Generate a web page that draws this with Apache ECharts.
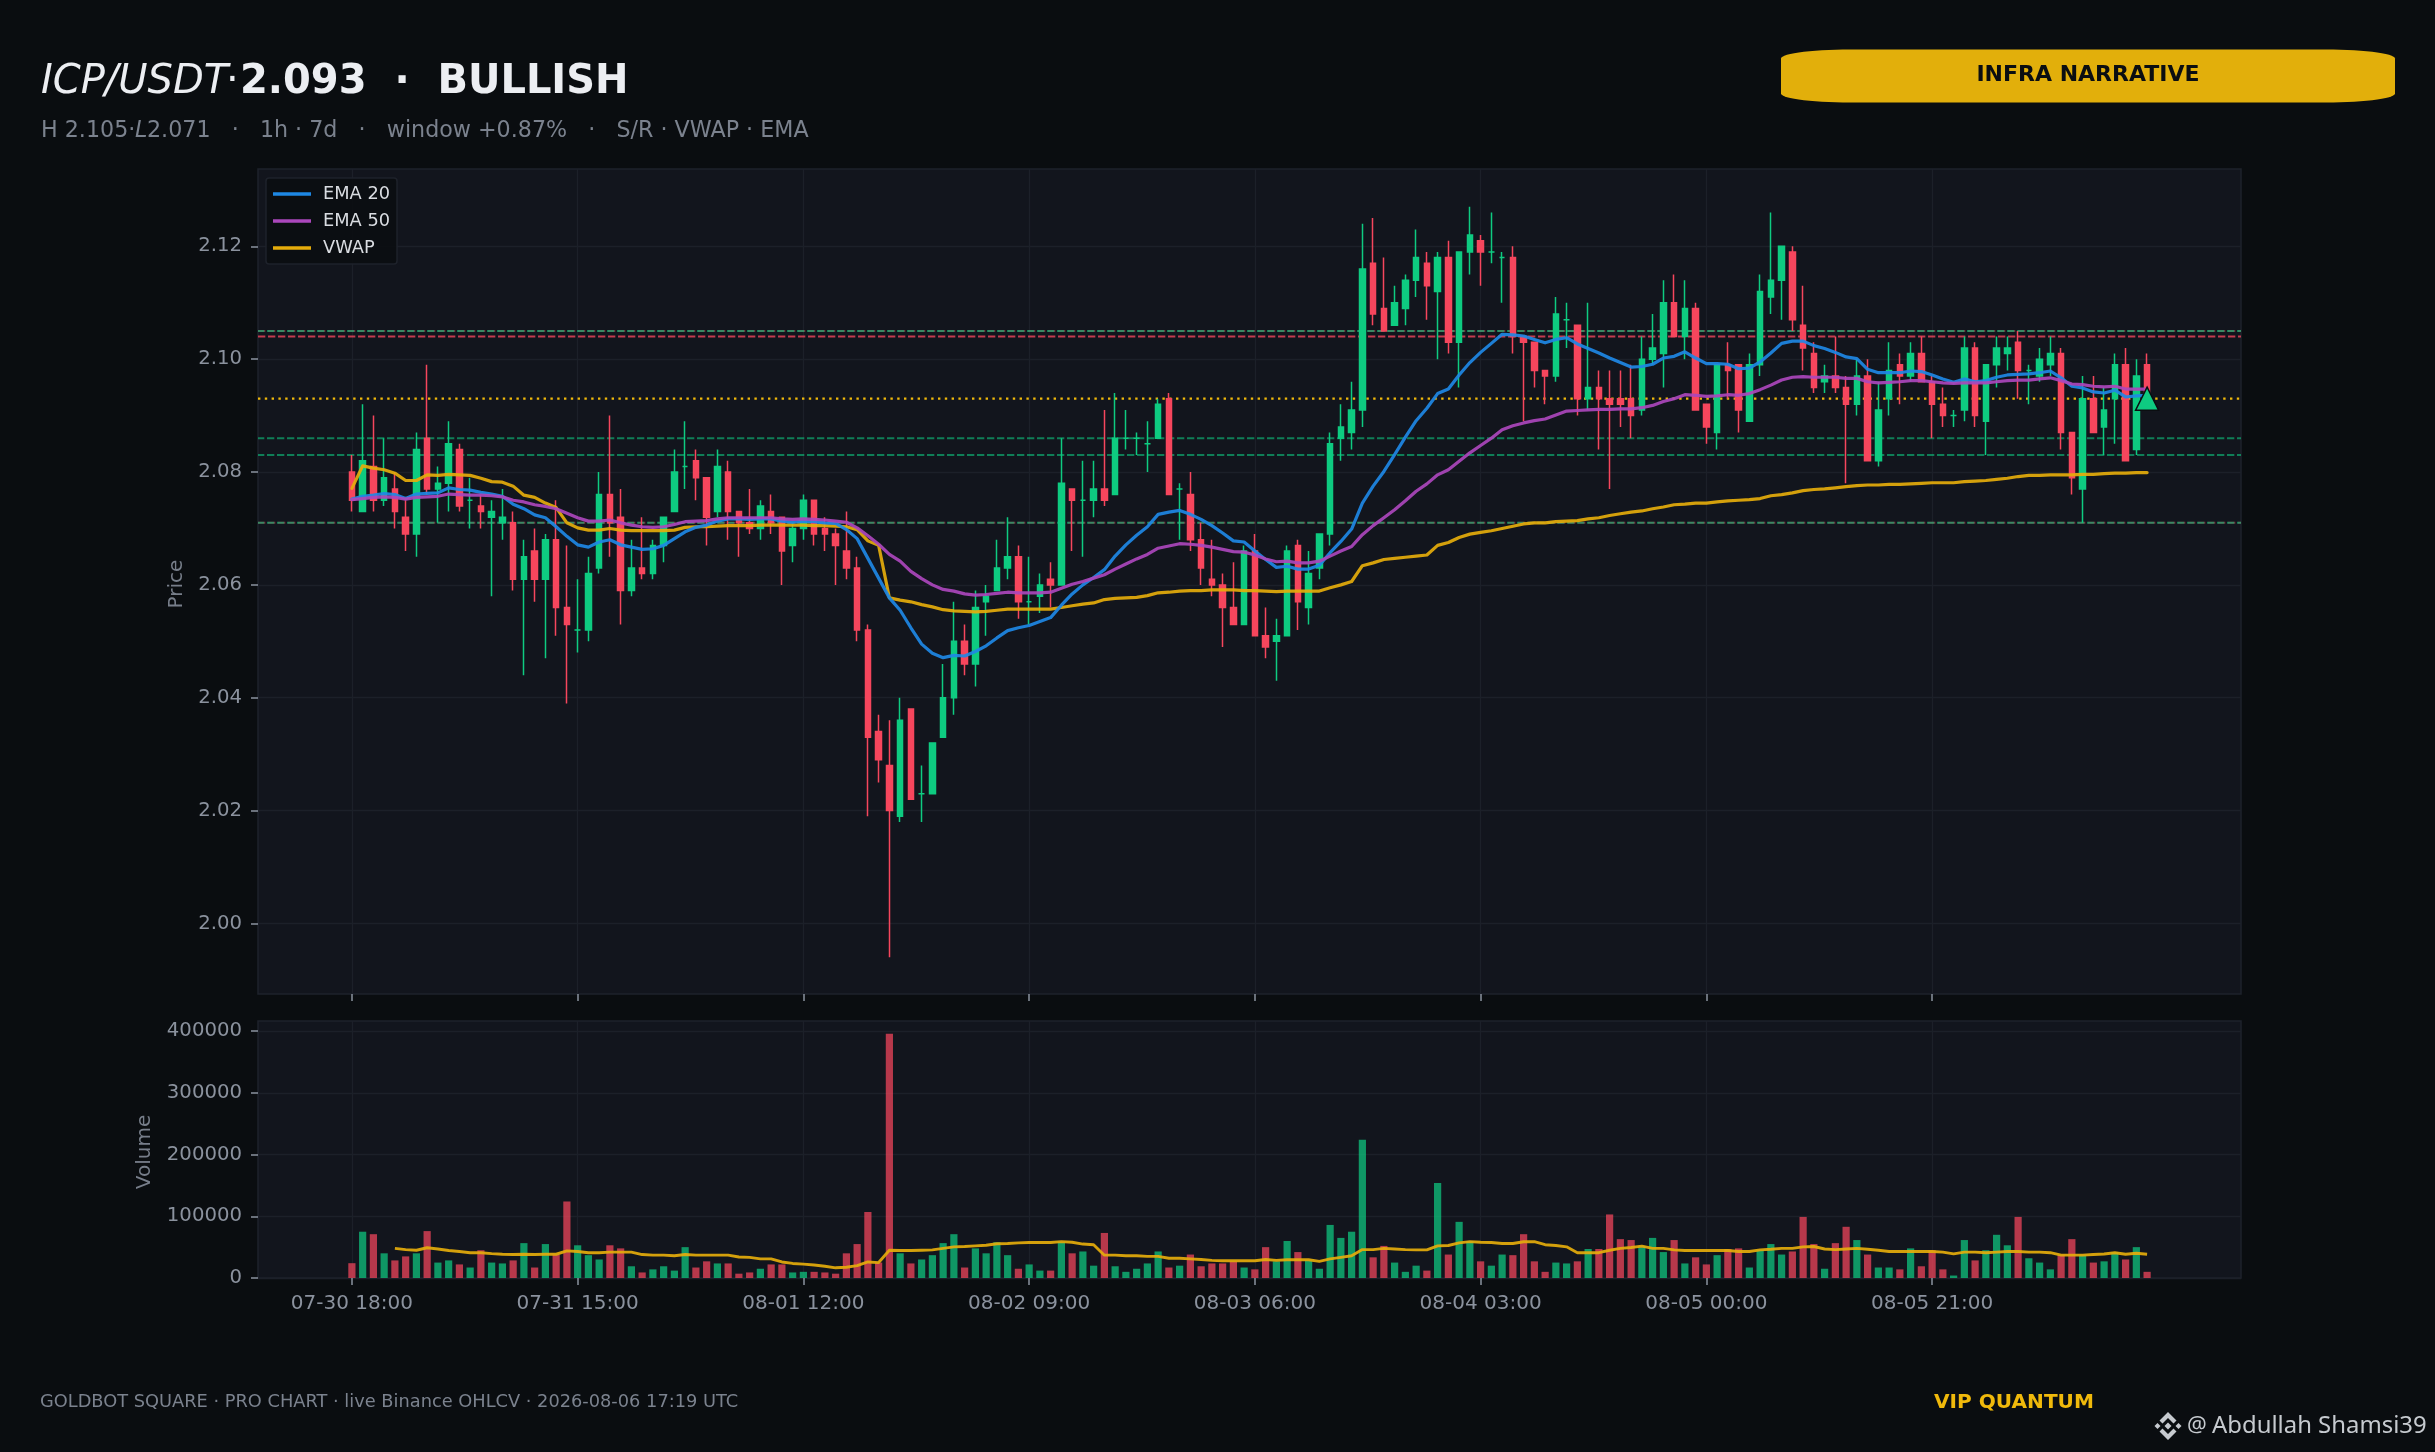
<!DOCTYPE html>
<html><head><meta charset="utf-8">
<style>html,body{margin:0;padding:0;background:#0a0d10}#c{width:2435px;height:1452px}</style>
<script src="https://cdn.jsdelivr.net/npm/echarts@6/dist/echarts.min.js"></script>
</head><body><div id="c"></div>
<script>
const opens=[2.080,2.073,2.081,2.075,2.077,2.072,2.069,2.086,2.077,2.078,
2.084,2.075,2.074,2.072,2.071,2.071,2.061,2.066,2.061,2.068,
2.056,2.052,2.052,2.063,2.076,2.072,2.059,2.063,2.062,2.067,
2.073,2.081,2.082,2.079,2.073,2.080,2.073,2.071,2.070,2.073,
2.072,2.067,2.070,2.075,2.070,2.069,2.066,2.063,2.052,2.034,
2.028,2.019,2.038,2.023,2.023,2.033,2.040,2.050,2.046,2.057,
2.059,2.063,2.065,2.057,2.058,2.061,2.060,2.077,2.075,2.075,
2.077,2.076,2.086,2.086,2.085,2.086,2.093,2.077,2.076,2.068,
2.061,2.060,2.056,2.053,2.066,2.051,2.050,2.051,2.067,2.056,
2.063,2.069,2.086,2.087,2.091,2.117,2.109,2.106,2.109,2.114,
2.117,2.112,2.118,2.103,2.119,2.121,2.119,2.118,2.118,2.104,
2.103,2.098,2.097,2.107,2.106,2.093,2.095,2.093,2.093,2.093,
2.091,2.100,2.101,2.110,2.104,2.109,2.092,2.087,2.099,2.099,
2.089,2.099,2.111,2.114,2.119,2.106,2.101,2.096,2.097,2.095,
2.092,2.097,2.082,2.093,2.099,2.097,2.101,2.096,2.092,2.090,
2.091,2.102,2.089,2.099,2.101,2.103,2.098,2.097,2.099,2.101,
2.087,2.077,2.093,2.088,2.093,2.099,2.084,2.099];
const closes=[2.075,2.082,2.075,2.079,2.073,2.069,2.084,2.077,2.078,2.085,
2.074,2.075,2.073,2.073,2.072,2.061,2.065,2.061,2.068,2.056,
2.053,2.052,2.062,2.076,2.071,2.059,2.063,2.062,2.067,2.072,
2.080,2.081,2.079,2.072,2.081,2.073,2.071,2.070,2.074,2.071,
2.066,2.070,2.075,2.069,2.069,2.067,2.063,2.052,2.033,2.029,
2.020,2.036,2.022,2.023,2.032,2.040,2.050,2.046,2.056,2.058,
2.063,2.065,2.057,2.057,2.060,2.060,2.078,2.075,2.075,2.077,
2.075,2.086,2.086,2.086,2.085,2.092,2.076,2.077,2.068,2.063,
2.060,2.056,2.053,2.066,2.051,2.049,2.051,2.066,2.057,2.062,
2.069,2.085,2.088,2.091,2.116,2.108,2.105,2.110,2.114,2.118,
2.113,2.118,2.103,2.119,2.122,2.119,2.119,2.118,2.104,2.103,
2.098,2.097,2.108,2.107,2.093,2.095,2.093,2.092,2.092,2.090,
2.100,2.102,2.110,2.104,2.109,2.091,2.088,2.099,2.098,2.091,
2.099,2.112,2.114,2.120,2.107,2.102,2.095,2.097,2.095,2.092,
2.097,2.082,2.091,2.098,2.097,2.101,2.096,2.092,2.090,2.090,
2.102,2.090,2.099,2.102,2.102,2.098,2.098,2.100,2.101,2.087,
2.079,2.093,2.087,2.091,2.099,2.082,2.097,2.093];
const highs=[2.083,2.092,2.090,2.086,2.080,2.075,2.087,2.099,2.081,2.089,
2.085,2.079,2.076,2.075,2.077,2.073,2.068,2.070,2.069,2.075,
2.067,2.061,2.065,2.080,2.090,2.077,2.068,2.072,2.068,2.072,
2.084,2.089,2.084,2.079,2.084,2.082,2.073,2.077,2.075,2.076,
2.072,2.071,2.076,2.075,2.072,2.070,2.073,2.065,2.053,2.037,
2.036,2.040,2.038,2.028,2.032,2.046,2.057,2.053,2.059,2.060,
2.068,2.072,2.067,2.065,2.062,2.064,2.086,2.077,2.082,2.082,
2.091,2.094,2.091,2.087,2.089,2.093,2.094,2.078,2.080,2.071,
2.068,2.062,2.064,2.067,2.069,2.056,2.054,2.067,2.068,2.066,
2.069,2.087,2.092,2.096,2.124,2.125,2.118,2.113,2.115,2.123,
2.119,2.119,2.121,2.119,2.127,2.122,2.126,2.119,2.120,2.104,
2.103,2.098,2.111,2.110,2.106,2.110,2.098,2.098,2.098,2.099,
2.104,2.108,2.114,2.115,2.114,2.110,2.092,2.099,2.103,2.099,
2.101,2.115,2.126,2.120,2.120,2.113,2.103,2.099,2.104,2.097,
2.100,2.100,2.096,2.103,2.101,2.103,2.104,2.097,2.095,2.091,
2.104,2.103,2.099,2.104,2.104,2.105,2.099,2.102,2.104,2.102,
2.087,2.097,2.097,2.095,2.101,2.102,2.100,2.101];
const lows=[2.073,2.073,2.073,2.074,2.070,2.066,2.065,2.076,2.071,2.073,
2.073,2.070,2.070,2.058,2.068,2.059,2.044,2.057,2.047,2.051,
2.039,2.048,2.050,2.062,2.065,2.053,2.058,2.061,2.061,2.064,
2.073,2.077,2.075,2.067,2.072,2.068,2.065,2.069,2.068,2.069,
2.060,2.064,2.068,2.067,2.066,2.060,2.061,2.050,2.019,2.025,
1.994,2.018,2.022,2.018,2.023,2.033,2.037,2.044,2.042,2.051,
2.059,2.061,2.054,2.053,2.055,2.056,2.060,2.066,2.065,2.072,
2.074,2.076,2.084,2.083,2.080,2.086,2.076,2.068,2.066,2.060,
2.058,2.049,2.053,2.053,2.051,2.047,2.043,2.051,2.052,2.053,
2.061,2.067,2.082,2.084,2.088,2.106,2.105,2.106,2.106,2.111,
2.107,2.100,2.101,2.095,2.115,2.113,2.117,2.110,2.101,2.089,
2.095,2.092,2.096,2.102,2.090,2.091,2.084,2.077,2.088,2.086,
2.090,2.099,2.095,2.104,2.100,2.091,2.085,2.084,2.093,2.087,
2.089,2.097,2.108,2.107,2.105,2.098,2.094,2.094,2.094,2.078,
2.090,2.082,2.081,2.090,2.092,2.096,2.096,2.086,2.088,2.088,
2.089,2.088,2.083,2.095,2.098,2.093,2.092,2.096,2.097,2.084,
2.076,2.071,2.087,2.083,2.085,2.082,2.083,2.093];
const volumes=[24000,75000,71000,40000,28500,35000,40000,76000,25000,28500,
22000,17000,45000,25000,23600,28500,56500,17000,55000,38000,
124000,53000,37000,30000,53000,48000,19000,9000,14000,19000,
12000,50000,17000,27000,23600,23600,7000,9000,15000,22000,
22000,9000,10000,10000,9000,7000,40000,55000,107000,25000,
396000,40000,23600,30000,37000,56500,71000,17000,48000,40000,
58000,37000,15000,22000,12000,12000,58000,40000,43000,20000,
73000,19000,10000,15000,23600,43000,17000,20000,38000,19000,
23600,23600,27000,17000,14000,50000,27000,60000,42000,28500,
15000,86000,65000,75000,224000,33500,52000,25000,10000,20000,
12000,154000,38000,91000,60000,27000,20000,38000,37000,71000,
27000,10000,25000,23600,27000,47000,47000,103000,63000,61500,
52000,65000,42000,61500,23600,33500,22000,37000,47000,48000,
17000,45000,55000,38000,43000,99000,55000,15000,56500,83000,
61500,38000,17000,17000,14000,48000,19000,45000,14000,4000,
61500,28500,45000,70000,53000,99000,32000,25000,14000,37000,
63000,37000,25000,27000,42000,30000,50000,10000];
const ema20=[2.0752,2.0757,2.0759,2.0762,2.0760,2.0753,2.0761,2.0762,2.0763,2.0772,
2.0769,2.0768,2.0764,2.0761,2.0757,2.0743,2.0735,2.0724,2.0719,2.0703,
2.0686,2.0671,2.0667,2.0676,2.0680,2.0671,2.0667,2.0663,2.0664,2.0670,
2.0682,2.0694,2.0702,2.0706,2.0713,2.0717,2.0717,2.0716,2.0717,2.0717,
2.0713,2.0711,2.0713,2.0712,2.0710,2.0709,2.0698,2.0682,2.0647,2.0612,
2.0577,2.0555,2.0524,2.0495,2.0479,2.0471,2.0475,2.0474,2.0482,2.0492,
2.0506,2.0519,2.0524,2.0528,2.0535,2.0542,2.0564,2.0584,2.0600,2.0613,
2.0627,2.0651,2.0671,2.0688,2.0703,2.0725,2.0729,2.0732,2.0725,2.0716,
2.0705,2.0692,2.0678,2.0676,2.0660,2.0645,2.0631,2.0633,2.0628,2.0628,
2.0635,2.0657,2.0677,2.0699,2.0745,2.0775,2.0801,2.0831,2.0862,2.0891,
2.0913,2.0939,2.0947,2.0972,2.0994,2.1012,2.1028,2.1044,2.1043,2.1041,
2.1035,2.1029,2.1035,2.1038,2.1027,2.1019,2.1011,2.1002,2.0994,2.0986,
2.0987,2.0991,2.1002,2.1005,2.1013,2.1002,2.0992,2.0992,2.0991,2.0983,
2.0984,2.0995,2.1011,2.1028,2.1032,2.1032,2.1024,2.1019,2.1012,2.1004,
2.1001,2.0982,2.0976,2.0976,2.0976,2.0979,2.0978,2.0972,2.0965,2.0959,
2.0965,2.0960,2.0962,2.0968,2.0972,2.0973,2.0974,2.0976,2.0979,2.0967,
2.0952,2.0949,2.0942,2.0940,2.0945,2.0933,2.0935,2.0936];
const ema50=[2.0751,2.0753,2.0755,2.0756,2.0755,2.0752,2.0755,2.0756,2.0757,2.0761,
2.0760,2.0759,2.0759,2.0758,2.0756,2.0750,2.0747,2.0742,2.0739,2.0735,
2.0727,2.0719,2.0713,2.0713,2.0715,2.0710,2.0706,2.0703,2.0702,2.0703,
2.0707,2.0712,2.0713,2.0714,2.0717,2.0719,2.0719,2.0719,2.0719,2.0719,
2.0717,2.0716,2.0717,2.0716,2.0715,2.0713,2.0711,2.0701,2.0687,2.0672,
2.0654,2.0642,2.0624,2.0611,2.0600,2.0592,2.0589,2.0584,2.0582,2.0583,
2.0585,2.0587,2.0586,2.0586,2.0586,2.0587,2.0594,2.0601,2.0606,2.0612,
2.0618,2.0628,2.0637,2.0646,2.0654,2.0665,2.0669,2.0673,2.0672,2.0670,
2.0667,2.0663,2.0659,2.0658,2.0653,2.0646,2.0641,2.0642,2.0639,2.0639,
2.0642,2.0651,2.0660,2.0668,2.0689,2.0705,2.0719,2.0733,2.0749,2.0766,
2.0779,2.0795,2.0804,2.0819,2.0834,2.0847,2.0860,2.0875,2.0882,2.0887,
2.0891,2.0894,2.0901,2.0908,2.0909,2.0910,2.0911,2.0911,2.0912,2.0912,
2.0914,2.0918,2.0925,2.0930,2.0937,2.0936,2.0934,2.0935,2.0937,2.0936,
2.0939,2.0946,2.0954,2.0963,2.0968,2.0969,2.0968,2.0968,2.0968,2.0966,
2.0966,2.0960,2.0958,2.0959,2.0960,2.0962,2.0962,2.0960,2.0958,2.0957,
2.0958,2.0958,2.0958,2.0960,2.0962,2.0963,2.0963,2.0965,2.0967,2.0962,
2.0956,2.0955,2.0952,2.0951,2.0952,2.0947,2.0947,2.0947];
const vwap=[2.0771,2.0811,2.0807,2.0804,2.0798,2.0785,2.0785,2.0795,2.0794,2.0796,
2.0795,2.0794,2.0789,2.0783,2.0782,2.0775,2.0759,2.0755,2.0745,2.0737,
2.0710,2.0701,2.0697,2.0697,2.0700,2.0697,2.0696,2.0696,2.0696,2.0696,
2.0697,2.0702,2.0703,2.0703,2.0704,2.0705,2.0705,2.0705,2.0706,2.0706,
2.0706,2.0706,2.0706,2.0705,2.0705,2.0704,2.0703,2.0698,2.0678,2.0670,
2.0577,2.0573,2.0570,2.0565,2.0561,2.0556,2.0554,2.0553,2.0552,2.0553,
2.0555,2.0557,2.0557,2.0557,2.0557,2.0557,2.0560,2.0563,2.0566,2.0568,
2.0574,2.0576,2.0577,2.0578,2.0581,2.0586,2.0587,2.0589,2.0590,2.0590,
2.0591,2.0591,2.0591,2.0590,2.0590,2.0589,2.0588,2.0589,2.0589,2.0589,
2.0589,2.0595,2.0600,2.0606,2.0634,2.0639,2.0645,2.0647,2.0649,2.0651,
2.0653,2.0670,2.0675,2.0684,2.0690,2.0693,2.0696,2.0700,2.0704,2.0708,
2.0710,2.0710,2.0712,2.0713,2.0714,2.0717,2.0719,2.0723,2.0726,2.0729,
2.0731,2.0735,2.0738,2.0742,2.0743,2.0745,2.0745,2.0747,2.0749,2.0750,
2.0751,2.0753,2.0758,2.0760,2.0763,2.0767,2.0769,2.0770,2.0772,2.0774,
2.0776,2.0777,2.0777,2.0778,2.0778,2.0779,2.0780,2.0781,2.0781,2.0781,
2.0783,2.0784,2.0785,2.0787,2.0789,2.0792,2.0794,2.0794,2.0795,2.0795,
2.0795,2.0796,2.0796,2.0797,2.0798,2.0798,2.0799,2.0799];
const volMA=[null,null,null,null,48000,46000,45000,49000,47000,44500,
43000,41000,41000,39500,38500,38000,38500,38000,38500,38500,
44000,43000,41000,41000,42000,42000,42000,38000,37000,37000,
36000,38000,37000,37000,37000,37000,34000,33500,31000,31000,
26000,23600,22500,21000,19000,16500,17500,20000,26000,25000,
45000,44500,44500,45000,45500,48000,50500,51000,52000,53000,
55500,56000,57000,57600,57600,57600,59000,58000,55000,54000,
37000,37000,36000,36000,35000,35000,32000,32000,31000,30000,
28500,28000,28000,28000,28000,30000,28500,29600,29600,29600,
27000,31000,33500,36000,46000,46000,48000,47000,46000,45500,
45500,52000,52700,57000,59000,58000,57600,56000,56000,58700,
59000,54000,52700,50500,41000,41000,41000,45000,48000,49400,
51600,48000,48000,45500,44500,44500,44500,44500,44500,43000,
43000,45500,46700,48000,48000,50500,51000,47000,46000,47000,
48000,46700,45000,43000,43000,43000,43000,43000,42000,39000,
42000,42000,41000,42000,43000,43000,42000,42000,41000,37000,
37000,37000,38000,39000,41000,38500,40000,38500];
const xTickIndex=[0,21,42,63,84,105,126,147];
const xTickLabels=['07-30 18:00','07-31 15:00','08-01 12:00','08-02 09:00','08-03 06:00','08-04 03:00','08-05 00:00','08-05 21:00'];
const priceTicks=[2.00,2.02,2.04,2.06,2.08,2.10,2.12];
const volumeTicks=[0,100000,200000,300000,400000];
const resistLevels=[2.105,2.071];
const resistStrong=[2.104];
const supportLevels=[2.105,2.086,2.083,2.071];
const pivotLevel=2.093;
const lastPoint=[167,2.093];
const titleLeft='ICP/USDT';
const titleRight='2.093  ·  BULLISH';
const subtitleParts=['H 2.105·','L','2.071   ·   1h · 7d   ·   window +0.87%   ·   S/R · VWAP · EMA'];
const footer='GOLDBOT SQUARE · PRO CHART · live Binance OHLCV · 2026-08-06 17:19 UTC';

const UP='#0ECB81',DOWN='#F6465D',GOLD='#F0B90B',PURPLE='#AB47BC';
const GRID='#1c2029',TXT='#8b929e',F='"DejaVu Sans"';
const X_MIN=-8.735,X_MAX=175.735,Y_MIN=1.9875,Y_MAX=2.1337,V_MAX=416500;
const idx=closes.map((_,i)=>i);
const zip=a=>a.map((v,i)=>[i,v]);
const xAxisBase=(gi,showLabel)=>({type:'value',gridIndex:gi,min:X_MIN,max:X_MAX,
  axisLine:{show:false,onZero:false},
  axisTick:{show:true,length:7,customValues:xTickIndex,lineStyle:{color:TXT,width:1.5}},
  axisLabel:{show:showLabel,customValues:xTickIndex,color:TXT,fontFamily:F,fontSize:20,margin:16,
    formatter:v=>xTickLabels[xTickIndex.indexOf(v)]||''},
  splitLine:{show:true,lineStyle:{color:GRID,width:1.3}}});
const yAxisBase=(gi,min,max,ticks,fmt,name,gap)=>({type:'value',gridIndex:gi,min,max,
  name,nameLocation:'middle',nameGap:gap,nameRotate:90,nameTextStyle:{color:'#777e8a',fontFamily:F,fontSize:20,padding:[0,5,0,0]},
  axisLine:{show:false,onZero:false},
  axisTick:{show:true,length:7,customValues:ticks,lineStyle:{color:TXT,width:1.5}},
  axisLabel:{customValues:ticks,color:TXT,fontFamily:F,fontSize:19.7,margin:16,padding:[7,0,0,0],formatter:fmt},
  splitLine:{show:true,lineStyle:{color:GRID,width:1.3}}});
const level=(name,v,color,width,dash,offset)=>({name,type:'line',xAxisIndex:0,yAxisIndex:0,z:1,silent:true,
  symbol:'none',data:[[X_MIN,v],[X_MAX,v]],lineStyle:{color,width,type:dash,dashOffset:offset||0},animation:false});
const overlay=(name,arr,color)=>({name,type:'line',xAxisIndex:0,yAxisIndex:0,z:3,symbol:'none',showSymbol:false,
  data:zip(arr),lineStyle:{color,width:3.2,opacity:.92,join:'round',cap:'round'},itemStyle:{color}});

function pill(x0,y0,x1,y1,rx,ry){const p=[];const c=[[x1-rx,y0+ry,-90],[x1-rx,y1-ry,0],[x0+rx,y1-ry,90],[x0+rx,y0+ry,180]];
  c.forEach(k=>{for(let a=0;a<=90;a+=6){const t=(k[2]+a)*Math.PI/180;p.push([k[0]+rx*Math.cos(t),k[1]+ry*Math.sin(t)]);}});return p;}
const txt=(x,y,text,size,fill,o)=>({type:'text',x,y,silent:true,style:{text,fill,font:(o&&o.font||'')+' '+size+'px '+(o&&o.family||F),textAlign:o&&o.align||'left',textVerticalAlign:'middle'}});
const IC=[2168,1426],IF='#c6cacf';
const ipoly=(pts)=>({type:'polygon',silent:true,shape:{points:pts.map(p=>[IC[0]+p[0],IC[1]+p[1]])},style:{fill:IF}});
const graphic=[
  txt(41,83,titleLeft,40,'#eceef2',{font:'italic'}),
  txt(226,83,'·',40,'#eceef2'),
  txt(240,83,titleRight,40,'#eceef2',{font:'bold'}),
  txt(41,131.5,subtitleParts[0],22.2,'#7b828e'),
  txt(135,131.5,subtitleParts[1],22.2,'#7b828e',{font:'italic'}),
  txt(147,131.5,subtitleParts[2],22.2,'#7b828e'),
  {type:'polygon',silent:true,shape:{points:pill(1781,49.5,2395,102.5,69,9)},style:{fill:'#e2af0b'}},
  txt(2088,75,'INFRA NARRATIVE',22,'#0b0e11',{font:'bold',align:'center'}),
  txt(40,1402.5,footer,17.8,'#7b828e'),
  txt(1934,1403,'VIP QUANTUM',20.1,GOLD,{font:'bold'}),
  txt(2187,1426,'@',22,IF,{family:'"Noto Sans"'}),
  txt(2212,1426,'Abdullah Shamsi39',23.9,IF,{family:'"Noto Sans"'}),
  ipoly([[0,-14],[8.5,-5.5],[5.5,-2.5],[0,-8],[-5.5,-2.5],[-8.5,-5.5]]),
  ipoly([[0,14],[8.5,5.5],[5.5,2.5],[0,8],[-5.5,2.5],[-8.5,5.5]]),
  ipoly([[0,-3.5],[3.5,0],[0,3.5],[-3.5,0]]),
  ipoly([[-10.5,-3],[-7.5,0],[-10.5,3],[-13.5,0]]),
  ipoly([[10.5,-3],[13.5,0],[10.5,3],[7.5,0]])
];
const chart=echarts.init(document.getElementById('c'),null,{renderer:'canvas',width:2435,height:1452});
chart.setOption({
  animation:false,backgroundColor:'#0a0d10',
  graphic:{elements:graphic},
  legend:{data:['EMA 20','EMA 50','VWAP'],orient:'vertical',left:266,top:178,padding:[6,7,6,7],itemGap:7,
    icon:'rect',itemWidth:38,itemHeight:3.5,backgroundColor:'rgba(11,14,17,.92)',borderColor:'#1e222b',borderWidth:1.5,borderRadius:3,
    textStyle:{color:'#d9dce1',fontFamily:F,fontSize:17.8,lineHeight:20,padding:[0,0,0,7]},selectedMode:false,z:20},
  grid:[{left:258,top:169,width:1983,height:825,show:true,backgroundColor:'#12151d',borderColor:'#1e222b',borderWidth:1.5},
        {left:258,top:1021,width:1983,height:257,show:true,backgroundColor:'#12151d',borderColor:'#1e222b',borderWidth:1.5}],
  xAxis:[xAxisBase(0,false),xAxisBase(1,true)],
  yAxis:[yAxisBase(0,Y_MIN,Y_MAX,priceTicks,v=>v.toFixed(2),'Price',69),
         yAxisBase(1,0,V_MAX,volumeTicks,v=>String(v),'Volume',103)],
  series:[
    ...resistLevels.map((v,i)=>level('R'+i,v,'rgba(246,70,93,.45)',2,[7.3,2.7])),
    ...resistStrong.map((v,i)=>level('RS'+i,v,'rgba(246,70,93,.78)',2,[7.3,2.7])),
    ...supportLevels.map((v,i)=>level('S'+i,v,'rgba(14,203,129,.58)',2,[7.3,2.7],1)),
    level('Pivot',pivotLevel,GOLD,2.4,[2.4,4.4]),
    {name:'Candles',type:'candlestick',xAxisIndex:0,yAxisIndex:0,z:2,barWidth:6.2,
     encode:{x:0,y:[1,2,3,4]},
     data:idx.map(i=>[i,opens[i],closes[i],lows[i],highs[i]]),
     itemStyle:{color:UP,color0:DOWN,borderColor:UP,borderColor0:DOWN,borderColorDoji:UP,borderWidth:1.5}},
    overlay('VWAP',vwap,'#E5AC0B'),
    overlay('EMA 20',ema20,'#1E88E5'),
    overlay('EMA 50',ema50,PURPLE),
    {name:'Last',type:'scatter',xAxisIndex:0,yAxisIndex:0,z:6,symbol:'triangle',symbolSize:23,data:[lastPoint],
     itemStyle:{color:UP,opacity:1,borderColor:'#0b0e11',borderWidth:1.5}},
    {name:'Volume',type:'bar',xAxisIndex:1,yAxisIndex:1,z:2,barWidth:7.2,
     data:idx.map(i=>({value:[i,volumes[i]],itemStyle:{color:closes[i]>=opens[i]?UP:DOWN,opacity:.72}}))},
    {name:'Vol MA',type:'line',xAxisIndex:1,yAxisIndex:1,z:3,symbol:'none',showSymbol:false,data:zip(volMA),
     lineStyle:{color:'#E5AC0B',width:2.9,opacity:.92}}
  ]
});
</script></body></html>
